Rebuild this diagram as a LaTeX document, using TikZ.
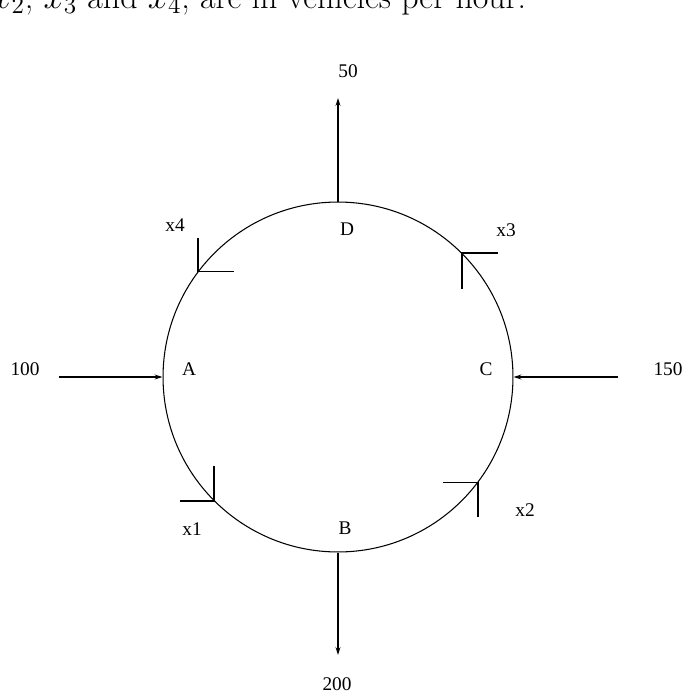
\documentclass[tikz,border=0pt]{standalone}
\usepackage{fontspec}
\newfontfamily\labelfont{Liberation Serif}
\usetikzlibrary{arrows.meta}

\tikzset{
    road/.style = {line width = 0.7pt, -{Stealth[length = 4.5pt, width = 2.8pt]}},
    flowtick/.style = {line width = 0.8pt},
    lbl/.style = {font = \labelfont\fontsize{11}{13}\selectfont, inner sep = 0pt}
}

\begin{document}
\begin{tikzpicture}[x = 0.02cm, y = -0.02cm]
            \useasboundingbox (0, 0) rectangle (700, 700);
            \node [anchor = base west, inner sep = 0pt, font = \fontsize{19.3}{23}\selectfont] (note) at (-9, 8) {$x_2$, $x_3$ and $x_4$, are in vehicles per hour.};
            \node [draw, circle, line width = 0.6pt, minimum size = 7cm, inner sep = 0pt] (ring) at (338, 377) {};
            \coordinate (west) at (59, 377);
            \coordinate (east) at (618, 377);
            \coordinate (north) at (338, 98);
            \coordinate (south) at (338, 655);
            \draw [road] (west) -- (ring.west);
            \draw [road] (east) -- (ring.east);
            \draw [road] (ring.north) -- (north);
            \draw [road] (ring.south) -- (south);
            \draw [flowtick] (ring.143) ++(0, -33) -- (ring.143) -- ++(36, 0);
            \draw [flowtick] (ring.45) ++(36, 0) -- (ring.45) -- ++(0, 36);
            \draw [flowtick] (ring.225) ++(0, -35) -- (ring.225) -- ++(-34, 0);
            \draw [flowtick] (ring.323) ++(-35, 0) -- (ring.323) -- ++(0, 34);
            \node [lbl] (in100) at (25, 369) {100};
            \node [lbl] (in150) at (668, 369) {150};
            \node [lbl] (out50) at (348, 71) {50};
            \node [lbl] (out200) at (337, 684) {200};
            \node [lbl] (A) at (189, 369) {A};
            \node [lbl] (B) at (345, 528) {B};
            \node [lbl] (C) at (486, 369) {C};
            \node [lbl] (D) at (347, 229) {D};
            \node [lbl] (x1) at (192, 529) {x1};
            \node [lbl] (x2) at (525, 510) {x2};
            \node [lbl] (x3) at (506, 230) {x3};
            \node [lbl] (x4) at (175, 225) {x4};
\end{tikzpicture}
\end{document}
